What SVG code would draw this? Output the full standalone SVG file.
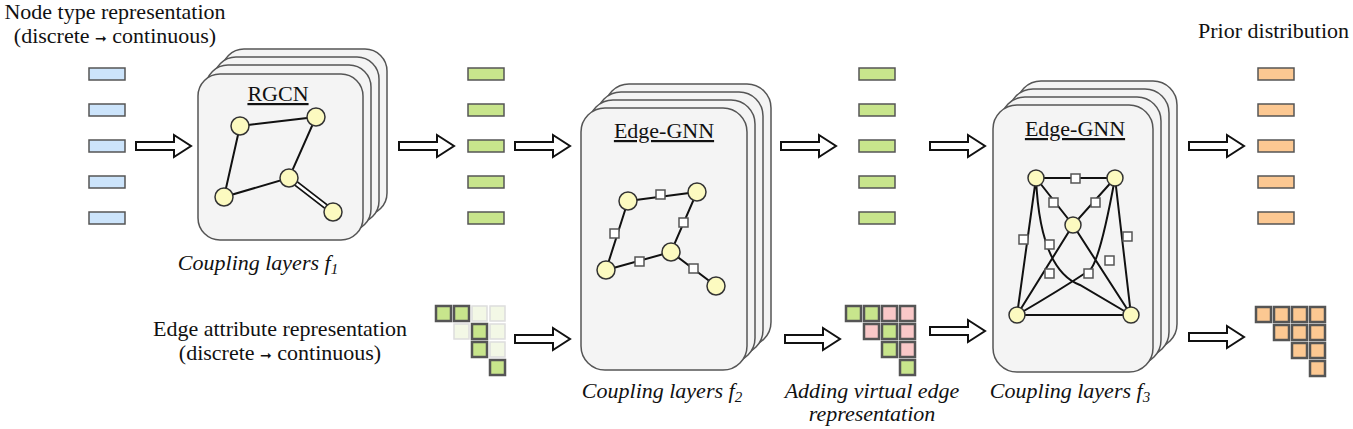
<svg xmlns="http://www.w3.org/2000/svg" width="1353" height="429" viewBox="0 0 1353 429" font-family="'Liberation Serif', 'Times New Roman', serif">
<style>
text{font-family:'Liberation Serif','Times New Roman',serif;font-size:22px;fill:#111}
.it{font-style:italic}
.card{fill:#f4f4f4;stroke:#555;stroke-width:1.5}
.blue{fill:#cce4fb;stroke:#555;stroke-width:1.5}
.green{fill:#c8e58c;stroke:#555;stroke-width:1.5}
.gf{fill:#f3f8e6;stroke:#ddd;stroke-width:1.5}
.pink{fill:#f9c8c8;stroke:#555;stroke-width:1.5}
.orange{fill:#fcc892;stroke:#555;stroke-width:1.5}
.cell{stroke-width:2.5}
.nd{fill:#fcfac0;stroke:#333;stroke-width:1.5}
.sq{fill:#fff;stroke:#555;stroke-width:1.5}
.e{stroke:#111;stroke-width:2;fill:none}
.arr{fill:#fff;stroke:#111;stroke-width:2}
</style>
<defs>
<path id="ar" class="arr" d="M0,-4 H38 V-11 L55,0 L38,11 V4 H0 Z"/>
<rect id="cellr" width="15" height="15"/>
</defs>
<text x="115" y="19" text-anchor="middle">Node type representation</text>
<text x="115" y="43" text-anchor="middle">(discrete <tspan font-family="DejaVu Sans" font-size="14">➞</tspan> continuous)</text>
<text x="1349" y="38" text-anchor="end">Prior distribution</text>
<g id="bars-blue"><rect class="blue" x="89" y="68" width="36" height="12"/><rect class="blue" x="89" y="104" width="36" height="12"/><rect class="blue" x="89" y="140" width="36" height="12"/><rect class="blue" x="89" y="176" width="36" height="12"/><rect class="blue" x="89" y="212" width="36" height="12"/></g>
<g id="bars-green1"><rect class="green" x="468" y="68" width="36" height="12"/><rect class="green" x="468" y="104" width="36" height="12"/><rect class="green" x="468" y="140" width="36" height="12"/><rect class="green" x="468" y="176" width="36" height="12"/><rect class="green" x="468" y="212" width="36" height="12"/></g>
<g id="bars-green2"><rect class="green" x="859" y="68" width="36" height="12"/><rect class="green" x="859" y="104" width="36" height="12"/><rect class="green" x="859" y="140" width="36" height="12"/><rect class="green" x="859" y="176" width="36" height="12"/><rect class="green" x="859" y="212" width="36" height="12"/></g>
<g id="bars-orange"><rect class="orange" x="1258" y="68" width="36" height="12"/><rect class="orange" x="1258" y="104" width="36" height="12"/><rect class="orange" x="1258" y="140" width="36" height="12"/><rect class="orange" x="1258" y="176" width="36" height="12"/><rect class="orange" x="1258" y="212" width="36" height="12"/></g>
<g id="connectors">
<use href="#ar" x="136" y="146"/>
<use href="#ar" x="399" y="146"/>
<use href="#ar" x="515" y="146"/>
<use href="#ar" x="781" y="146"/>
<use href="#ar" x="930" y="146"/>
<use href="#ar" x="1189" y="146"/>
<use href="#ar" x="515" y="339"/>
<use href="#ar" x="785" y="339"/>
<use href="#ar" x="930" y="331"/>
<use href="#ar" x="1189" y="337"/>
</g>
<g id="stack1">
<rect class="card" x="222" y="49" width="165" height="166" rx="22"/>
<rect class="card" x="214" y="57" width="165" height="166" rx="22"/>
<rect class="card" x="206" y="65" width="165" height="166" rx="22"/>
<rect class="card" x="198" y="74" width="165" height="166" rx="22"/>
<text x="278" y="101" text-anchor="middle" text-decoration="underline">RGCN</text>
<path class="e" d="M240,126 L316,117 L289,178 L224,197 L240,126"/>
<path d="M289,178 L333,212" stroke="#111" stroke-width="6"/>
<path d="M289,178 L333,212" stroke="#fff" stroke-width="2.5"/>
<circle class="nd" cx="240" cy="126" r="9"/><circle class="nd" cx="316" cy="117" r="9"/><circle class="nd" cx="289" cy="178" r="9"/><circle class="nd" cx="224" cy="197" r="9"/><circle class="nd" cx="333" cy="212" r="9"/>
</g>
<text class="it" x="258" y="270" text-anchor="middle">Coupling layers <tspan>f</tspan><tspan font-size="15" dy="4">1</tspan></text>
<g id="stack2">
<rect class="card" x="605" y="84" width="166" height="262" rx="24"/>
<rect class="card" x="597" y="92" width="166" height="262" rx="24"/>
<rect class="card" x="589" y="100" width="166" height="262" rx="24"/>
<rect class="card" x="581" y="108" width="166" height="262" rx="24"/>
<text x="664" y="138" text-anchor="middle" text-decoration="underline">Edge-GNN</text>
<path class="e" d="M628,201 L697,192 L671,252 L606,270 L628,201 M671,252 L716,286"/>
<rect class="sq" x="656" y="190" width="9" height="9"/><rect class="sq" x="679" y="218" width="9" height="9"/><rect class="sq" x="610" y="229" width="9" height="9"/><rect class="sq" x="635" y="257" width="9" height="9"/><rect class="sq" x="689" y="264" width="9" height="9"/>
<circle class="nd" cx="628" cy="201" r="9"/><circle class="nd" cx="697" cy="192" r="9"/><circle class="nd" cx="671" cy="252" r="9"/><circle class="nd" cx="606" cy="270" r="9"/><circle class="nd" cx="716" cy="286" r="9"/>
</g>
<text class="it" x="662" y="398" text-anchor="middle">Coupling layers  <tspan>f</tspan><tspan font-size="15" dy="4">2</tspan></text>
<g id="stack3">
<rect class="card" x="1017" y="81" width="160" height="267" rx="24"/>
<rect class="card" x="1009" y="89" width="160" height="267" rx="24"/>
<rect class="card" x="1001" y="97" width="160" height="267" rx="24"/>
<rect class="card" x="993" y="105" width="160" height="267" rx="24"/>
<text x="1075" y="136" text-anchor="middle" text-decoration="underline">Edge-GNN</text>
<path class="e" d="M1036,178 L1115,178 M1036,178 L1073,225 L1115,178 M1036,178 L1017,315 L1131,315 L1115,178 M1073,225 L1017,315 M1073,225 L1131,315 M1036,178 Q1040,270 1080,285 L1131,315 M1115,178 Q1100,260 1090,270 Q1060,290 1017,315"/>
<rect class="sq" x="1071" y="174" width="9" height="9"/><rect class="sq" x="1049" y="198" width="9" height="9"/><rect class="sq" x="1091" y="198" width="9" height="9"/><rect class="sq" x="1019" y="235" width="9" height="9"/><rect class="sq" x="1123" y="232" width="9" height="9"/><rect class="sq" x="1045" y="240" width="9" height="9"/><rect class="sq" x="1105" y="256" width="9" height="9"/><rect class="sq" x="1045" y="269" width="9" height="9"/><rect class="sq" x="1084" y="269" width="9" height="9"/>
<circle class="nd" cx="1036" cy="178" r="8"/><circle class="nd" cx="1115" cy="178" r="8"/><circle class="nd" cx="1073" cy="225" r="8"/><circle class="nd" cx="1017" cy="315" r="8"/><circle class="nd" cx="1131" cy="315" r="8"/>
</g>
<text class="it" x="1070" y="398" text-anchor="middle">Coupling layers  <tspan>f</tspan><tspan font-size="15" dy="4">3</tspan></text>
<text x="280" y="336" text-anchor="middle">Edge attribute representation</text>
<text x="280" y="360" text-anchor="middle">(discrete <tspan font-family="DejaVu Sans" font-size="14">➞</tspan> continuous)</text>
<g id="matrix1">
<use href="#cellr" class="green cell" x="436" y="306"/><use href="#cellr" class="green cell" x="454" y="306"/><use href="#cellr" class="gf" x="472" y="306"/><use href="#cellr" class="gf" x="490" y="306"/>
<use href="#cellr" class="gf" x="454" y="324"/><use href="#cellr" class="green cell" x="472" y="324"/><use href="#cellr" class="gf" x="490" y="324"/>
<use href="#cellr" class="green cell" x="472" y="342"/><use href="#cellr" class="gf" x="490" y="342"/>
<use href="#cellr" class="green cell" x="490" y="360"/>
</g>
<g id="matrix2">
<use href="#cellr" class="green cell" x="846" y="306"/><use href="#cellr" class="green cell" x="864" y="306"/><use href="#cellr" class="pink cell" x="882" y="306"/><use href="#cellr" class="pink cell" x="900" y="306"/>
<use href="#cellr" class="pink cell" x="864" y="324"/><use href="#cellr" class="green cell" x="882" y="324"/><use href="#cellr" class="pink cell" x="900" y="324"/>
<use href="#cellr" class="green cell" x="882" y="342"/><use href="#cellr" class="pink cell" x="900" y="342"/>
<use href="#cellr" class="green cell" x="900" y="360"/>
</g>
<text class="it" x="872" y="398" text-anchor="middle">Adding virtual edge</text>
<text class="it" x="872" y="421" text-anchor="middle">representation</text>
<g id="matrix3">
<use href="#cellr" class="orange cell" x="1256" y="307"/><use href="#cellr" class="orange cell" x="1274" y="307"/><use href="#cellr" class="orange cell" x="1292" y="307"/><use href="#cellr" class="orange cell" x="1310" y="307"/>
<use href="#cellr" class="orange cell" x="1274" y="325"/><use href="#cellr" class="orange cell" x="1292" y="325"/><use href="#cellr" class="orange cell" x="1310" y="325"/>
<use href="#cellr" class="orange cell" x="1292" y="343"/><use href="#cellr" class="orange cell" x="1310" y="343"/>
<use href="#cellr" class="orange cell" x="1310" y="361"/>
</g>
</svg>
